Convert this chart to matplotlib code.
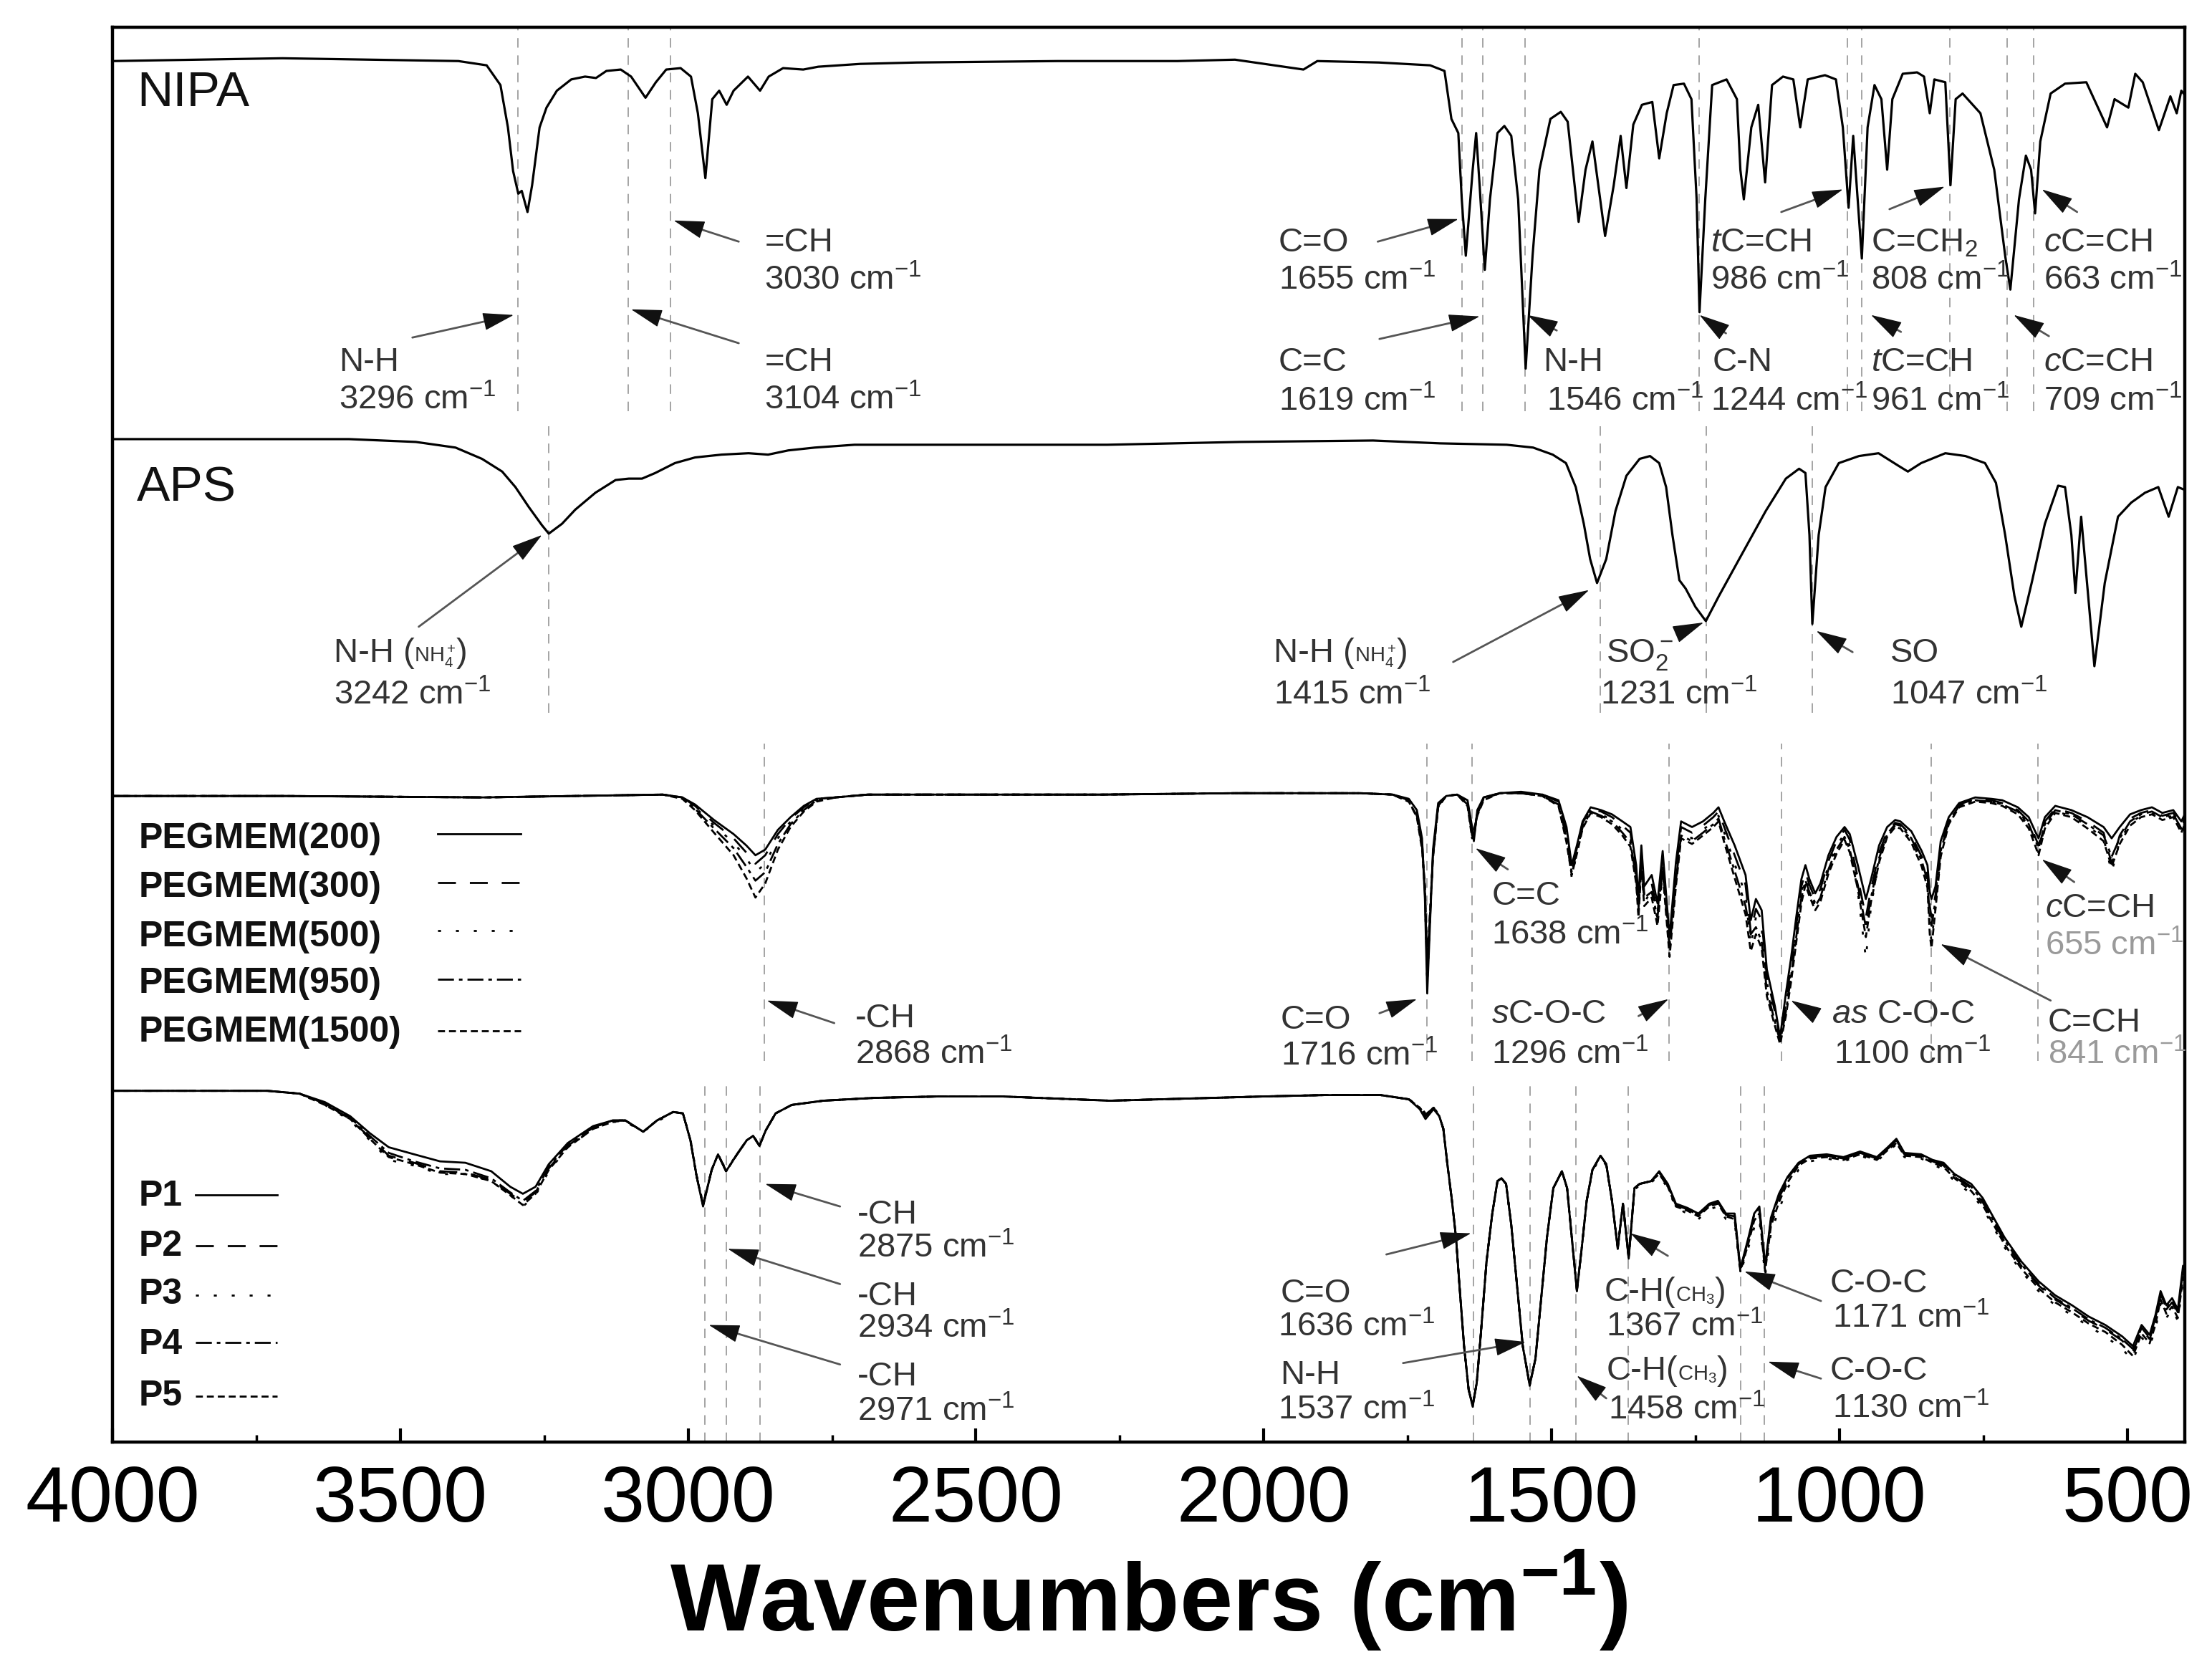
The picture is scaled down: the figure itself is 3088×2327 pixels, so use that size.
import math
import matplotlib
matplotlib.use("Agg")
import matplotlib.pyplot as plt
from matplotlib.ticker import MultipleLocator
from matplotlib.lines import Line2D
from matplotlib.offsetbox import TextArea, HPacker, AnnotationBbox

plt.rcParams['font.family'] = ['Liberation Sans', 'DejaVu Sans']
plt.rcParams['mathtext.fontset'] = 'custom'
plt.rcParams['mathtext.rm'] = 'Liberation Sans'
plt.rcParams['mathtext.it'] = 'Liberation Sans:italic'
plt.rcParams['mathtext.bf'] = 'Liberation Sans:bold'

# ---------------- data (wavenumber cm-1, stacked transmittance units) -------------
NIPA = [(4000, 979), (3850, 980), (3705, 981), (3550, 980), (3399, 979), (3350, 976), (3326, 962),
        (3313, 932), (3304, 901), (3295, 885), (3289, 887), (3279, 872), (3271, 891), (3258, 932),
        (3246, 946), (3228, 958), (3203, 966), (3179, 968), (3160, 967), (3142, 972), (3117, 973),
        (3099, 968), (3074, 953), (3056, 964), (3038, 973), (3013, 974), (2995, 968), (2983, 942),
        (2970, 896), (2958, 952), (2946, 958), (2933, 948), (2921, 958), (2896, 968), (2875, 958),
        (2860, 968), (2835, 974), (2800, 973), (2774, 975), (2701, 977), (2603, 978), (2358, 979),
        (2150, 979), (2050, 980), (1931, 973), (1907, 979), (1800, 978), (1711, 976), (1686, 972),
        (1674, 938), (1662, 928), (1656, 881), (1649, 841), (1637, 902), (1631, 928), (1625, 891),
        (1616, 831), (1607, 881), (1594, 928), (1582, 933), (1570, 926), (1558, 881), (1545, 761),
        (1533, 841), (1521, 902), (1502, 938), (1484, 943), (1472, 936), (1453, 865), (1441, 902),
        (1429, 922), (1407, 855), (1392, 891), (1380, 926), (1370, 889), (1358, 934), (1343, 948),
        (1325, 950), (1313, 910), (1300, 942), (1288, 962), (1270, 963), (1257, 952), (1248, 881),
        (1243, 801), (1233, 881), (1221, 962), (1196, 966), (1178, 952), (1172, 902), (1166, 881),
        (1153, 932), (1141, 948), (1129, 893), (1117, 962), (1098, 968), (1080, 966), (1068, 932),
        (1055, 966), (1025, 969), (1006, 966), (994, 932), (984, 875), (976, 926), (961, 839),
        (951, 932), (939, 962), (927, 952), (917, 902), (908, 952), (890, 970), (865, 971),
        (853, 968), (843, 942), (835, 966), (816, 964), (807, 891), (798, 952), (786, 956),
        (755, 942), (731, 902), (712, 841), (703, 817), (688, 881), (676, 912), (667, 902),
        (660, 871), (651, 922), (633, 956), (608, 963), (571, 964), (535, 932), (522, 952),
        (498, 946), (486, 970), (473, 964), (445, 930), (425, 954), (414, 942), (406, 958), (400, 955)]

APS = [(4000, 711), (3773, 711), (3589, 711), (3473, 709), (3404, 705), (3358, 697), (3323, 688),
       (3300, 677), (3277, 663), (3254, 650), (3242, 644), (3219, 651), (3196, 661), (3161, 673),
       (3126, 682), (3103, 683), (3080, 683), (3057, 687), (3023, 694), (2988, 698), (2942, 700),
       (2895, 701), (2861, 700), (2826, 703), (2780, 705), (2711, 707), (2503, 707), (2272, 707),
       (2156, 708), (2041, 709), (1810, 710), (1694, 708), (1578, 707), (1532, 705), (1498, 700),
       (1475, 694), (1458, 677), (1444, 651), (1433, 626), (1421, 609), (1405, 626), (1389, 660),
       (1370, 685), (1347, 697), (1329, 699), (1313, 694), (1301, 677), (1290, 643), (1278, 611),
       (1267, 605), (1250, 592), (1232, 582), (1209, 600), (1174, 626), (1128, 660), (1093, 683),
       (1070, 690), (1059, 687), (1052, 643), (1047, 580), (1036, 643), (1024, 677), (1001, 694),
       (966, 699), (932, 701), (897, 692), (881, 688), (858, 694), (816, 701), (781, 699),
       (747, 694), (728, 680), (712, 643), (696, 600), (684, 578), (666, 609), (643, 651),
       (620, 678), (608, 677), (597, 643), (590, 602), (580, 656), (557, 550), (539, 609),
       (516, 656), (493, 666), (469, 673), (446, 677), (428, 656), (412, 677), (400, 675)]

PEG_WN = [4000, 3700, 3355, 3044, 3010, 2988, 2955, 2921, 2899, 2883,
          2866, 2844, 2822, 2799, 2777, 2744, 2688, 2280, 2050, 1832,
          1776, 1748, 1734, 1725, 1720, 1716, 1706, 1697, 1683, 1664,
          1646, 1638, 1635, 1629, 1618, 1590, 1553, 1516, 1488, 1474,
          1465, 1456, 1446, 1432, 1414, 1395, 1377, 1363, 1353, 1349,
          1344, 1339, 1326, 1316, 1307, 1295, 1284, 1275, 1256, 1237,
          1219, 1210, 1200, 1182, 1163, 1154, 1145, 1135, 1126, 1112,
          1103, 1093, 1084, 1075, 1066, 1059, 1052, 1042, 1033, 1019,
          1005, 991, 982, 968, 954, 945, 931, 917, 903, 894,
          875, 857, 847, 843, 840, 833, 824, 810, 792, 764,
          736, 717, 690, 671, 660, 654, 643, 625, 597, 569,
          541, 527, 513, 495, 476, 457, 439, 420, 406, 400]
PEG_200 = [458, 458, 457, 459, 457, 452, 441, 431, 423, 416,
           420, 434, 443, 451, 456, 457, 459, 459, 460, 460,
           459, 456, 448, 428, 385, 318, 420, 453, 458, 459,
           455, 436, 426, 448, 457, 460, 461, 459, 455, 436,
           409, 423, 440, 450, 448, 445, 440, 436, 409, 385,
           423, 394, 402, 382, 419, 358, 411, 440, 436, 440,
           446, 450, 440, 423, 402, 370, 385, 377, 335, 309,
           287, 318, 343, 372, 399, 409, 399, 389, 396, 416,
           429, 436, 431, 409, 385, 399, 423, 436, 441, 440,
           433, 419, 409, 390, 385, 394, 426, 443, 453, 457,
           456, 455, 450, 443, 433, 428, 443, 451, 448, 443,
           436, 428, 436, 445, 448, 450, 446, 448, 440, 445]
PEG_300 = [458, 458, 457, 459, 457, 451, 439, 428, 418, 410,
           416, 431, 442, 450, 456, 457, 459, 459, 460, 460,
           459, 455, 446, 426, 390, 330, 415, 451, 458, 459,
           454, 434, 428, 447, 457, 460, 460, 459, 454, 433,
           406, 421, 439, 449, 447, 443, 437, 432, 403, 380,
           418, 388, 396, 375, 414, 352, 405, 436, 432, 437,
           443, 447, 436, 416, 395, 362, 378, 370, 330, 305,
           285, 312, 338, 366, 394, 404, 395, 385, 392, 412,
           426, 434, 427, 400, 372, 392, 418, 433, 439, 438,
           430, 415, 402, 380, 372, 388, 421, 441, 452, 456,
           455, 453, 448, 440, 429, 423, 440, 449, 446, 440,
           432, 410, 430, 442, 446, 448, 444, 446, 437, 442]
PEG_500 = [458, 458, 457, 459, 457, 450, 437, 425, 414, 404,
           410, 428, 440, 449, 455, 457, 459, 459, 460, 460,
           459, 455, 445, 424, 388, 325, 418, 452, 458, 459,
           453, 432, 430, 446, 456, 460, 460, 458, 453, 430,
           400, 418, 437, 448, 445, 441, 434, 428, 398, 375,
           414, 382, 392, 370, 410, 346, 400, 432, 428, 434,
           440, 444, 432, 410, 388, 352, 372, 364, 326, 302,
           283, 308, 334, 362, 390, 400, 392, 382, 388, 409,
           423, 431, 423, 390, 343, 380, 412, 430, 437, 436,
           427, 410, 395, 365, 355, 380, 417, 439, 451, 455,
           454, 452, 446, 437, 425, 418, 437, 447, 444, 437,
           428, 404, 426, 439, 444, 446, 442, 444, 434, 440]
PEG_950 = [458, 458, 457, 459, 457, 449, 435, 421, 408, 398,
           404, 424, 438, 448, 455, 457, 459, 459, 460, 460,
           459, 454, 444, 422, 392, 335, 416, 451, 458, 459,
           452, 430, 432, 445, 456, 460, 460, 458, 452, 428,
           404, 419, 436, 447, 444, 440, 432, 425, 400, 378,
           412, 386, 390, 372, 408, 350, 398, 430, 426, 432,
           438, 442, 428, 405, 380, 360, 365, 355, 320, 298,
           284, 305, 330, 358, 386, 398, 390, 380, 386, 406,
           420, 429, 420, 395, 365, 386, 414, 431, 438, 437,
           428, 412, 398, 372, 366, 384, 419, 440, 451, 455,
           454, 452, 447, 438, 427, 421, 438, 448, 445, 438,
           430, 415, 428, 440, 445, 447, 443, 445, 435, 441]
PEG_1500 = [458, 458, 457, 459, 456, 448, 432, 416, 400, 386,
            396, 420, 436, 447, 454, 457, 459, 459, 460, 460,
            459, 454, 443, 420, 395, 340, 414, 450, 458, 459,
            451, 428, 434, 444, 455, 460, 460, 458, 451, 425,
            402, 417, 435, 446, 443, 438, 430, 422, 396, 372,
            408, 380, 386, 366, 404, 344, 394, 428, 424, 430,
            436, 440, 425, 400, 374, 348, 360, 350, 316, 295,
            282, 302, 326, 354, 382, 395, 387, 377, 383, 403,
            417, 427, 418, 392, 358, 383, 411, 429, 436, 435,
            425, 408, 393, 360, 350, 378, 415, 438, 450, 454,
            453, 451, 445, 435, 423, 416, 435, 446, 443, 435,
            426, 408, 424, 437, 443, 445, 441, 443, 432, 438]

P_WN = [4000, 3731, 3675, 3631, 3587, 3553, 3520, 3476, 3431, 3387,
        3342, 3309, 3287, 3265, 3242, 3209, 3165, 3131, 3109, 3078,
        3054, 3026, 3009, 2996, 2985, 2974, 2959, 2948, 2934, 2915,
        2898, 2887, 2876, 2865, 2848, 2820, 2765, 2676, 2565, 2454,
        2267, 2000, 1894, 1797, 1748, 1729, 1719, 1705, 1695, 1688,
        1681, 1673, 1666, 1660, 1652, 1644, 1637, 1630, 1623, 1613,
        1603, 1594, 1587, 1579, 1570, 1560, 1550, 1538, 1528, 1518,
        1508, 1497, 1482, 1473, 1463, 1456, 1448, 1439, 1429, 1415,
        1405, 1395, 1385, 1376, 1366, 1356, 1347, 1327, 1313, 1298,
        1284, 1264, 1245, 1226, 1211, 1197, 1182, 1172, 1158, 1148,
        1139, 1129, 1119, 1105, 1090, 1071, 1051, 1022, 993, 964,
        935, 916, 901, 887, 858, 838, 819, 800, 771, 751,
        732, 713, 684, 654, 625, 596, 567, 538, 509, 490,
        475, 461, 451, 442, 432, 422, 412, 403, 400]
P1 = [249, 249, 247, 241, 231, 219, 209, 204, 199, 198,
      192, 181, 176, 181, 197, 212, 224, 228, 228, 220,
      228, 234, 233, 214, 188, 167, 193, 204, 192, 204,
      214, 217, 210, 221, 233, 239, 242, 244, 245, 245,
      242, 245, 246, 246, 243, 236, 229, 236, 231, 222,
      197, 171, 145, 111, 68, 37, 25, 42, 76, 128,
      162, 185, 187, 183, 154, 111, 68, 40, 59, 102,
      145, 180, 192, 180, 137, 107, 136, 171, 193, 203,
      197, 171, 137, 169, 130, 180, 183, 185, 192, 183,
      169, 166, 162, 169, 171, 162, 162, 123, 145, 162,
      167, 125, 159, 176, 188, 198, 203, 204, 202, 206,
      202, 209, 215, 205, 204, 200, 198, 190, 183, 173,
      159, 145, 128, 114, 104, 97, 89, 83, 75, 68,
      83, 76, 90, 107, 97, 102, 94, 125, 120]
P2 = [249, 249, 247, 240, 229, 216, 203, 198, 192, 191,
      186, 176, 170, 177, 194, 210, 223, 228, 228, 220,
      228, 234, 233, 214, 188, 168, 193, 204, 192, 204,
      214, 217, 210, 221, 233, 239, 242, 244, 245, 245,
      242, 245, 246, 246, 243, 237, 232, 237, 231, 222,
      197, 171, 145, 111, 68, 37, 26, 42, 76, 128,
      162, 185, 187, 183, 154, 111, 68, 41, 59, 102,
      145, 180, 192, 180, 137, 108, 136, 171, 193, 203,
      197, 171, 138, 169, 131, 180, 183, 185, 191, 182,
      168, 165, 161, 168, 170, 161, 160, 122, 143, 160,
      165, 123, 156, 173, 186, 197, 202, 203, 201, 205,
      201, 208, 213, 204, 203, 199, 196, 188, 180, 170,
      156, 142, 125, 111, 101, 94, 86, 80, 72, 64,
      80, 73, 86, 104, 94, 99, 91, 120, 116]
P3 = [249, 249, 247, 239, 228, 214, 200, 196, 190, 190,
      185, 175, 167, 175, 192, 209, 222, 227, 227, 220,
      227, 234, 233, 215, 189, 169, 193, 204, 193, 204,
      214, 217, 211, 221, 233, 239, 242, 244, 245, 245,
      242, 245, 246, 246, 243, 238, 233, 238, 231, 222,
      197, 171, 145, 111, 68, 37, 26, 42, 76, 128,
      162, 185, 187, 183, 154, 111, 68, 41, 59, 102,
      145, 180, 192, 180, 137, 108, 136, 171, 192, 202,
      196, 171, 138, 168, 131, 179, 182, 184, 189, 180,
      166, 162, 158, 165, 167, 158, 156, 120, 138, 152,
      158, 118, 148, 165, 180, 193, 199, 201, 199, 203,
      199, 206, 211, 202, 201, 197, 193, 185, 176, 166,
      152, 138, 121, 107, 97, 90, 82, 75, 66, 58,
      74, 68, 80, 98, 88, 94, 86, 114, 110]
P4 = [249, 249, 247, 240, 230, 217, 205, 199, 194, 193,
      187, 177, 171, 178, 195, 211, 223, 228, 228, 220,
      228, 234, 233, 214, 188, 168, 193, 204, 192, 204,
      214, 217, 210, 221, 233, 239, 242, 244, 245, 245,
      242, 245, 246, 246, 243, 237, 231, 237, 231, 222,
      197, 171, 145, 111, 68, 37, 26, 42, 76, 128,
      162, 185, 187, 183, 154, 111, 68, 40, 59, 102,
      145, 180, 192, 180, 137, 107, 136, 171, 193, 203,
      197, 171, 137, 169, 130, 180, 183, 185, 191, 182,
      168, 165, 161, 168, 170, 161, 161, 122, 144, 161,
      166, 124, 157, 174, 187, 197, 202, 203, 201, 205,
      201, 208, 214, 204, 203, 199, 197, 189, 181, 171,
      157, 143, 126, 112, 102, 95, 87, 81, 73, 66,
      81, 74, 88, 105, 95, 100, 92, 122, 118]
P5 = [249, 249, 247, 239, 229, 215, 202, 197, 191, 190,
      185, 175, 168, 176, 193, 209, 222, 227, 228, 220,
      228, 234, 233, 214, 188, 168, 193, 204, 192, 204,
      214, 217, 210, 221, 233, 239, 242, 244, 245, 245,
      242, 245, 246, 246, 243, 237, 232, 237, 231, 222,
      197, 171, 145, 111, 68, 37, 26, 42, 76, 128,
      162, 185, 187, 183, 154, 111, 68, 41, 59, 102,
      145, 180, 192, 180, 137, 108, 136, 171, 193, 203,
      197, 171, 138, 169, 131, 180, 183, 185, 190, 181,
      167, 164, 160, 167, 169, 160, 158, 121, 141, 157,
      162, 121, 153, 170, 184, 196, 201, 202, 200, 204,
      200, 207, 212, 203, 202, 198, 195, 187, 178, 168,
      154, 140, 123, 109, 99, 92, 84, 78, 69, 61,
      77, 70, 83, 101, 91, 96, 88, 117, 113]

PEG_NAMES = ['PEGMEM(200)', 'PEGMEM(300)', 'PEGMEM(500)', 'PEGMEM(950)', 'PEGMEM(1500)']
P_NAMES = ['P1', 'P2', 'P3', 'P4', 'P5']

# marked peak positions (cm-1)
NIPA_PEAKS = [3296, 3104, 3030, 1655, 1619, 1546, 1244, 986, 961, 808, 709, 663]
APS_PEAKS = [3242, 1415, 1231, 1047]
PEG_PEAKS = [2868, 1716, 1638, 1296, 1100, 841, 655]
P_PEAKS = [2971, 2934, 2875, 1636, 1537, 1458, 1367, 1171, 1130]

XTICKS = [4000, 3500, 3000, 2500, 2000, 1500, 1000, 500]

# ---------------- figure ----------------
TXT = '#333333'
GREY = '#9a9a9a'
FS = 34
FS_SMALL = 21

fig = plt.figure(figsize=(30.88, 23.27), dpi=100)
ax = fig.add_axes([0.05084, 0.13494, 0.93685, 0.84873])
ax.set_xlim(4000, 400)
ax.set_ylim(0, 1003)

# guide lines
guide = dict(colors='#959595', linestyles=(0, (8, 6.5)), linewidth=1.2, zorder=1)
ax.vlines(NIPA_PEAKS, 731, 1003, **guide)
ax.vlines(APS_PEAKS, 517, 722, **guide)
ax.vlines(PEG_PEAKS, 270, 495, **guide)
ax.vlines(P_PEAKS, 0, 254, **guide)

# spectra
nw, nt = zip(*NIPA)
ax.plot(nw, nt, color='black', lw=2.3, zorder=3)
aw, at = zip(*APS)
ax.plot(aw, at, color='black', lw=2.3, zorder=3)

STYLES = ['-', (0, (9, 7)), (0, (1.5, 7.5)), (0, (8, 2.5, 1.8, 2.5)), (0, (3.5, 2))]
for vals, st in zip([PEG_200, PEG_300, PEG_500, PEG_950, PEG_1500], STYLES):
    ax.plot(PEG_WN, vals, color='black', lw=2.0, linestyle=st, zorder=3)
for vals, st in zip([P1, P2, P3, P4, P5], STYLES):
    ax.plot(P_WN, vals, color='black', lw=2.0, linestyle=st, zorder=3)

# panel names
ax.text(0.0118, 0.9442, 'NIPA', transform=ax.transAxes, fontsize=50, va='baseline', ha='left', color='#111111')
ax.text(0.0118, 0.6653, 'APS', transform=ax.transAxes, fontsize=50, va='baseline', ha='left', color='#111111')

# legends (label column left aligned, line samples in a column)
peg_text_y = [0.4197, 0.3851, 0.3505, 0.3176, 0.2830]
peg_line_y = [0.4298, 0.3952, 0.3615, 0.3269, 0.2906]
for name, ty, ly, st in zip(PEG_NAMES, peg_text_y, peg_line_y, STYLES):
    ax.text(0.0127, ty, name, transform=ax.transAxes, fontsize=36, fontweight='bold',
            va='baseline', ha='left', color='#111111')
    ax.add_line(Line2D([0.1571, 0.1972], [ly, ly], transform=ax.transAxes, color='black',
                       lw=2.0, linestyle=st))
p_text_y = [0.1669, 0.1318, 0.0977, 0.0625, 0.0257]
p_line_y = [0.1747, 0.1387, 0.1036, 0.0702, 0.0326]
for name, ty, ly, st in zip(P_NAMES, p_text_y, p_line_y, STYLES):
    ax.text(0.0125, ty, name, transform=ax.transAxes, fontsize=36, fontweight='bold',
            va='baseline', ha='left', color='#111111')
    ax.add_line(Line2D([0.0402, 0.0794], [ly, ly], transform=ax.transAxes, color='black',
                       lw=2.0, linestyle=st))

CM = r' cm$\mathregular{^{-1}}$'

# (x cm-1, y, text, color)
LABELS = [
    # NIPA
    (2867, 844, '=CH', TXT), (2867, 817, '3030' + CM, TXT),
    (3607, 759, 'N-H', TXT), (3607, 732, '3296' + CM, TXT),
    (2867, 759, '=CH', TXT), (2867, 732, '3104' + CM, TXT),
    (1974, 844, 'C=O', TXT), (1974, 817, '1655' + CM, TXT),
    (1974, 759, 'C=C', TXT), (1974, 731, '1619' + CM, TXT),
    (1515, 759, 'N-H', TXT), (1509, 731, '1546' + CM, TXT),
    (1221, 759, 'C-N', TXT), (1224, 731, '1244' + CM, TXT),
    (1224, 844, r'$\mathit{t}$C=CH', TXT), (1224, 817, '986' + CM, TXT),
    (945, 844, r'C=CH$\mathregular{_2}$', TXT), (945, 817, '808' + CM, TXT),
    (645, 844, r'$\mathit{c}$C=CH', TXT), (645, 817, '663' + CM, TXT),
    (945, 759, r'$\mathit{t}$C=CH', TXT), (945, 731, '961' + CM, TXT),
    (645, 759, r'$\mathit{c}$C=CH', TXT), (645, 731, '709' + CM, TXT),
    # APS
    (3616, 523, '3242' + CM, TXT),
    (1983, 523, '1415' + CM, TXT),
    (1405, 553, r'SO$\mathregular{_2^-}$', TXT), (1416, 523, '1231' + CM, TXT),
    (912, 553, 'SO', TXT), (912, 523, '1047' + CM, TXT),
    # PEGMEM
    (2710, 294, '-CH', TXT), (2710, 268, '2868' + CM, TXT),
    (1971, 293, 'C=O', TXT), (1971, 267, '1716' + CM, TXT),
    (1604, 381, 'C=C', TXT), (1604, 353, '1638' + CM, TXT),
    (1604, 297, r'$\mathit{s}$C-O-C', TXT), (1604, 268, '1296' + CM, TXT),
    (1014, 297, r'$\mathit{as}$ C-O-C', TXT), (1010, 268, '1100' + CM, TXT),
    (643, 372, r'$\mathit{c}$C=CH', TXT), (643, 345, '655' + CM, GREY),
    (638, 291, 'C=CH', TXT), (638, 268, '841' + CM, GREY),
    # P
    (2706, 155, '-CH', TXT), (2706, 131, '2875' + CM, TXT),
    (2706, 97, '-CH', TXT), (2706, 74, '2934' + CM, TXT),
    (2706, 40, '-CH', TXT), (2706, 15, '2971' + CM, TXT),
    (1971, 99, 'C=O', TXT), (1975, 75, '1636' + CM, TXT),
    (1971, 41, 'N-H', TXT), (1975, 16, '1537' + CM, TXT),
    (1406, 75, '1367' + CM, TXT),
    (1402, 16, '1458' + CM, TXT),
    (1017, 106, 'C-O-C', TXT), (1012, 81, '1171' + CM, TXT),
    (1017, 44, 'C-O-C', TXT), (1012, 17, '1130' + CM, TXT),
]
for x, y, s, c in LABELS:
    ax.text(x, y, s, fontsize=FS, color=c, ha='left', va='baseline', zorder=5)

# labels mixing sizes
RICH = [
    (3616, 553, [('N-H (', FS), (r'$\mathregular{NH_4^+}$', FS_SMALL), (')', FS)]),
    (1983, 553, [('N-H (', FS), (r'$\mathregular{NH_4^+}$', FS_SMALL), (')', FS)]),
    (1409, 100, [('C-H(', FS), (r'$\mathregular{CH_3}$', FS_SMALL), (')', FS)]),
    (1405, 44, [('C-H(', FS), (r'$\mathregular{CH_3}$', FS_SMALL), (')', FS)]),
]
for x, y, parts in RICH:
    boxes = [TextArea(s, textprops=dict(fontsize=f, color=TXT)) for s, f in parts]
    pack = HPacker(children=boxes, align='baseline', pad=0, sep=0)
    ab = AnnotationBbox(pack, (x, y - 5), xycoords='data', box_alignment=(0, 0),
                        frameon=False, pad=0, annotation_clip=False, zorder=5)
    ax.add_artist(ab)

# arrows (tail -> tip): grey shaft with a black head
ARROWS = [
    ((2912, 851), (3025, 866)), ((3479, 783), (3303, 799)), ((2912, 779), (3099, 803)),
    ((1802, 851), (1662, 867)), ((1799, 782), (1625, 798)), ((1491, 788), (1542, 799)),
    ((1197, 786), (1243, 799)), ((1101, 872), (994, 888)), ((913, 874), (817, 890)),
    ((587, 872), (648, 888)), ((893, 787), (945, 799)), ((636, 784), (697, 799)),
    ((3468, 578), (3254, 643)), ((1671, 553), (1435, 604)), ((1282, 573), (1236, 581)),
    ((977, 560), (1040, 575)),
    ((2746, 297), (2863, 313)), ((1799, 304), (1734, 314)), ((1576, 406), (1632, 421)),
    ((1349, 302), (1297, 314)), ((1042, 303), (1084, 313)), ((592, 397), (648, 413)),
    ((633, 313), (824, 353)),
    ((2736, 167), (2866, 183)), ((2736, 112), (2931, 137)), ((2736, 55), (2964, 83)),
    ((1787, 133), (1640, 148)), ((1758, 56), (1545, 71)), ((1298, 132), (1363, 148)),
    ((1405, 31), (1456, 47)), ((1032, 100), (1165, 121)), ((1032, 45), (1124, 57)),
]
HEAD_PT = 28.0
for tail, tip in ARROWS:
    p0 = ax.transData.transform(tail)
    p1 = ax.transData.transform(tip)
    length_pt = math.hypot(p1[0] - p0[0], p1[1] - p0[1]) * 72.0 / fig.dpi
    ax.annotate('', xy=tip, xytext=tail, xycoords='data', textcoords='data',
                arrowprops=dict(arrowstyle='-', color='#555555', lw=2.0,
                                shrinkA=0, shrinkB=HEAD_PT * 0.6), zorder=6)
    ax.annotate('', xy=tip, xytext=tail, xycoords='data', textcoords='data',
                arrowprops=dict(arrowstyle='-|>,head_length=0.7,head_width=0.2',
                                mutation_scale=40, color='#111111', lw=1.0,
                                shrinkA=max(0.0, length_pt - HEAD_PT - 1.0), shrinkB=0),
                zorder=7)

# axes styling
for sp in ax.spines.values():
    sp.set_linewidth(3.2)
ax.set_xticks(XTICKS)
ax.set_xticklabels([str(v) for v in XTICKS])
ax.xaxis.set_minor_locator(MultipleLocator(250))
ax.tick_params(axis='x', which='major', direction='in', length=14, width=3, labelsize=79, pad=23)
ax.tick_params(axis='x', which='minor', direction='in', length=7, width=2.5)
ax.tick_params(axis='y', left=False, labelleft=False)
ax.set_xlabel(r'Wavenumbers (cm$\mathregular{^{-1}}$)', fontsize=96, fontweight='bold')
ax.xaxis.set_label_coords(0.5, -0.1337)
ax.xaxis.label.set_va('baseline')

fig.savefig('out.png', dpi=100, facecolor='white')
